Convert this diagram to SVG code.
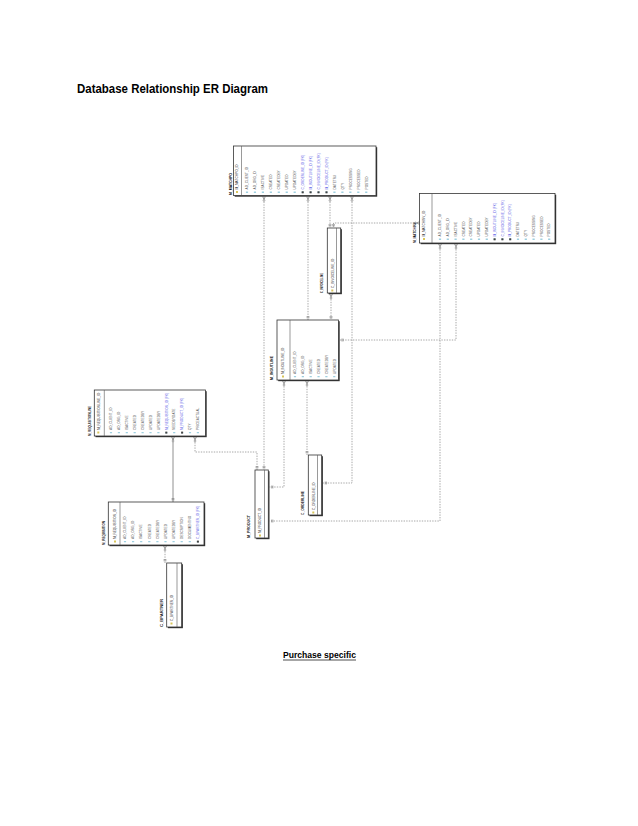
<svg xmlns="http://www.w3.org/2000/svg" width="638" height="826" viewBox="0 0 638 826">
<style>
.box{fill:#fff;stroke:#333;stroke-width:.8}
.sh{fill:#333}
.sep{stroke:#555;stroke-width:.6}
.nm{font-family:"Liberation Sans",Arial,sans-serif;font-size:3.8px;font-weight:bold;fill:#111}
.pk{font-family:"Liberation Sans",Arial,sans-serif;font-size:3.2px;fill:#333}
.f{font-family:"Liberation Sans",Arial,sans-serif;font-size:3.2px;fill:#555}
.fk{fill:#5a5ae6}
.ic{stroke:#9fd0e0;stroke-width:1.4}
.key{fill:#d9c65a}
.fki{fill:#444}
.cn{fill:none;stroke:#7a7a7a;stroke-width:.65;stroke-dasharray:1.4 1.2}
.cs{fill:none;stroke:#555;stroke-width:.65}
.mk{fill:#fff;stroke:#555;stroke-width:.45}
.ttl{font-family:"Liberation Sans",Arial,sans-serif;font-weight:bold;fill:#000}
</style>
<defs>
<g id="cf" class="mk"><path d="M-1.6,0 L0,2.6 L1.6,0 M0,0 V2.6"/><circle cy="4" r="0.9"/></g>
<g id="pt" class="mk"><path d="M-1.5,2.2 H1.5 M-1.5,3.4 H1.5"/></g>
</defs>
<rect width="638" height="826" fill="#fff"/>
<text class="ttl" x="77" y="93" font-size="12.5" textLength="191" lengthAdjust="spacingAndGlyphs">Database Relationship ER Diagram</text>

<g id="connectors">
<path class="cn" d="M264,196.5 V470"/>
<path class="cn" d="M308,196.5 V320"/>
<path class="cn" d="M330,196.5 V228"/>
<path class="cn" d="M352,196.5 V483 H323"/>
<path class="cn" d="M419.5,223 H333.5 V228"/>
<path class="cn" d="M456,244 V340 H339.7"/>
<path class="cn" d="M440,244 V521 H269.5"/>
<path class="cn" d="M331,294 V320"/>
<path class="cn" d="M284,381 V487 H269.5"/>
<path class="cn" d="M307,381 V455"/>
<path class="cn" d="M195,437 V452 H257 V470"/>
<path class="cs" d="M173,437 V502"/>
<path class="cn" d="M165,546 V563"/>
<use href="#cf" transform="translate(264,196.5)"/>
<use href="#cf" transform="translate(308,196.5)"/>
<use href="#cf" transform="translate(330,196.5)"/>
<use href="#cf" transform="translate(352,196.5)"/>
<use href="#cf" transform="translate(419.5,223) rotate(90)"/>
<use href="#cf" transform="translate(456,244)"/>
<use href="#cf" transform="translate(440,244)"/>
<use href="#cf" transform="translate(331,294)"/>
<use href="#cf" transform="translate(284,381)"/>
<use href="#cf" transform="translate(307,381)"/>
<use href="#cf" transform="translate(195,437)"/>
<use href="#cf" transform="translate(173,437)"/>
<use href="#cf" transform="translate(165,546)"/>
<use href="#pt" transform="translate(264,470) rotate(180)"/>
<use href="#pt" transform="translate(308,320) rotate(180)"/>
<use href="#pt" transform="translate(330,228) rotate(180)"/>
<use href="#pt" transform="translate(323,483) rotate(-90)"/>
<use href="#pt" transform="translate(333.5,228) rotate(180)"/>
<use href="#pt" transform="translate(339.7,340) rotate(-90)"/>
<use href="#pt" transform="translate(269.5,521) rotate(-90)"/>
<use href="#pt" transform="translate(331,320) rotate(180)"/>
<use href="#pt" transform="translate(269.5,487) rotate(-90)"/>
<use href="#pt" transform="translate(307,455) rotate(180)"/>
<use href="#pt" transform="translate(257,470) rotate(180)"/>
<use href="#pt" transform="translate(173,502) rotate(180)"/>
<use href="#pt" transform="translate(165,563) rotate(180)"/>
</g>

<g id="m_matchpo">
<rect class="sh" x="234.7" y="147.2" width="142.5" height="49.5"/>
<rect class="box" x="233.5" y="146" width="142.5" height="49.5"/>
<line class="sep" x1="241.5" y1="146" x2="241.5" y2="195.5"/>
<text class="nm" transform="translate(232,195) rotate(-90)" textLength="22" lengthAdjust="spacingAndGlyphs">M_MATCHPO</text>
<rect class="key" x="236" y="191" width="2" height="2"/>
<text class="pk" transform="translate(238.3,189.5) rotate(-90)">M_MATCHPO_ID</text>
<line class="ic" x1="245.9" y1="192.3" x2="368" y2="192.3" stroke-dasharray="2.2 5.75"/>
<rect class="fki" x="301.7" y="191.3" width="2" height="2"/><rect class="fki" x="309.6" y="191.3" width="2" height="2"/><rect class="fki" x="317.5" y="191.3" width="2" height="2"/><rect class="fki" x="325.5" y="191.3" width="2" height="2"/>
<g class="f" transform="translate(248.3,189.5) rotate(-90)">
<text y="0">AD_CLIENT_ID</text><text y="7.95">AD_ORG_ID</text><text y="15.9">ISACTIVE</text><text y="23.85">CREATED</text><text y="31.8">CREATEDBY</text><text y="39.75">UPDATED</text><text y="47.7">UPDATEDBY</text>
<text y="55.65" class="fk">C_ORDERLINE_ID (FK)</text><text y="63.6" class="fk">M_INOUTLINE_ID (FK)</text><text y="71.55" class="fk">C_INVOICELINE_ID (FK)</text><text y="79.5" class="fk">M_PRODUCT_ID (FK)</text>
<text y="87.45">DATETRX</text><text y="95.4">QTY</text><text y="103.35">PROCESSING</text><text y="111.3">PROCESSED</text><text y="119.25">POSTED</text>
</g>
</g>

<g id="m_matchinv">
<rect class="sh" x="420.7" y="194.7" width="135.5" height="49.5"/>
<rect class="box" x="419.5" y="193.5" width="135.5" height="49.5"/>
<line class="sep" x1="432" y1="193.5" x2="432" y2="243"/>
<text class="nm" transform="translate(416.4,243) rotate(-90)" textLength="21" lengthAdjust="spacingAndGlyphs">M_MATCHINV</text>
<rect class="key" x="423" y="238" width="2" height="2"/>
<text class="pk" transform="translate(425.3,236.5) rotate(-90)">M_MATCHINV_ID</text>
<line class="ic" x1="438.9" y1="239.3" x2="551" y2="239.3" stroke-dasharray="2.2 5.6"/>
<rect class="fki" x="493.6" y="238.3" width="2" height="2"/><rect class="fki" x="501.4" y="238.3" width="2" height="2"/><rect class="fki" x="509.2" y="238.3" width="2" height="2"/>
<g class="f" transform="translate(441.3,236.5) rotate(-90)">
<text y="0">AD_CLIENT_ID</text><text y="7.8">AD_ORG_ID</text><text y="15.6">ISACTIVE</text><text y="23.4">CREATED</text><text y="31.2">CREATEDBY</text><text y="39">UPDATED</text><text y="46.8">UPDATEDBY</text>
<text y="54.6" class="fk">M_INOUTLINE_ID (FK)</text><text y="62.4" class="fk">C_INVOICELINE_ID (FK)</text><text y="70.2" class="fk">M_PRODUCT_ID (FK)</text>
<text y="78">DATETRX</text><text y="85.8">QTY</text><text y="93.6">PROCESSING</text><text y="101.4">PROCESSED</text><text y="109.2">POSTED</text>
</g>
</g>

<g id="m_inoutline">
<rect class="sh" x="278.2" y="321.2" width="61.5" height="60"/>
<rect class="box" x="277" y="320" width="61.5" height="60"/>
<line class="sep" x1="290" y1="320" x2="290" y2="380"/>
<text class="nm" transform="translate(273.4,380) rotate(-90)" textLength="24" lengthAdjust="spacingAndGlyphs">M_INOUTLINE</text>
<rect class="key" x="282" y="375.5" width="2" height="2"/>
<text class="pk" transform="translate(284.3,374) rotate(-90)">M_INOUTLINE_ID</text>
<line class="ic" x1="293.9" y1="376.6" x2="336" y2="376.6" stroke-dasharray="2.2 5.65"/>
<g class="f" transform="translate(296.3,374) rotate(-90)">
<text y="0">AD_CLIENT_ID</text><text y="7.85">AD_ORG_ID</text><text y="15.7">ISACTIVE</text><text y="23.55">CREATED</text><text y="31.4">CREATEDBY</text><text y="39.25">UPDATED</text>
</g>
</g>

<g id="c_invoiceline">
<rect class="sh" x="328.5" y="229.2" width="13.4" height="65"/>
<rect class="box" x="327.3" y="228" width="13.4" height="65"/>
<line class="sep" x1="336.5" y1="228" x2="336.5" y2="293"/>
<text class="nm" transform="translate(323.1,293) rotate(-90)" textLength="20" lengthAdjust="spacingAndGlyphs">C_INVOICELINE</text>
<rect class="key" x="331.3" y="289.5" width="2" height="2"/>
<text class="pk" transform="translate(333.6,288) rotate(-90)">C_INVOICELINE_ID</text>
</g>

<g id="c_orderline">
<rect class="sh" x="309.5" y="456.2" width="13.4" height="60"/>
<rect class="box" x="308.3" y="455" width="13.4" height="60"/>
<line class="sep" x1="317.5" y1="455" x2="317.5" y2="515"/>
<text class="nm" transform="translate(304.1,515) rotate(-90)" textLength="24" lengthAdjust="spacingAndGlyphs">C_ORDERLINE</text>
<rect class="key" x="312.3" y="511.5" width="2" height="2"/>
<text class="pk" transform="translate(314.6,510) rotate(-90)">C_ORDERLINE_ID</text>
</g>

<g id="m_product">
<rect class="sh" x="256.2" y="471.2" width="13.3" height="68"/>
<rect class="box" x="255" y="470" width="13.3" height="68"/>
<line class="sep" x1="264.5" y1="470" x2="264.5" y2="538"/>
<text class="nm" transform="translate(250.4,538) rotate(-90)" textLength="23" lengthAdjust="spacingAndGlyphs">M_PRODUCT</text>
<rect class="key" x="259" y="534.5" width="2" height="2"/>
<text class="pk" transform="translate(261.3,533) rotate(-90)">M_PRODUCT_ID</text>
</g>

<g id="m_requisitionline">
<rect class="sh" x="95.5" y="391.2" width="111.2" height="46"/>
<rect class="box" x="94.3" y="390" width="111.2" height="46"/>
<line class="sep" x1="104.3" y1="390" x2="104.3" y2="436"/>
<text class="nm" transform="translate(91.4,436) rotate(-90)" textLength="30" lengthAdjust="spacingAndGlyphs">M_REQUISITIONLINE</text>
<rect class="key" x="97.3" y="431.5" width="2" height="2"/>
<text class="pk" transform="translate(99.6,430) rotate(-90)">M_REQUISITIONLINE_ID</text>
<line class="ic" x1="109.9" y1="432.6" x2="200" y2="432.6" stroke-dasharray="2.2 5.7"/>
<rect class="fki" x="165.3" y="431.6" width="2" height="2"/><rect class="fki" x="181.1" y="431.6" width="2" height="2"/>
<g class="f" transform="translate(112.3,430) rotate(-90)">
<text y="0">AD_CLIENT_ID</text><text y="7.9">AD_ORG_ID</text><text y="15.8">ISACTIVE</text><text y="23.7">CREATED</text><text y="31.6">CREATEDBY</text><text y="39.5">UPDATED</text><text y="47.4">UPDATEDBY</text>
<text y="55.3" class="fk">M_REQUISITION_ID (FK)</text><text y="63.2">NEEDBYDATE</text><text y="71.1" class="fk">M_PRODUCT_ID (FK)</text><text y="79">QTY</text><text y="86.9">PRICEACTUAL</text>
</g>
</g>

<g id="m_requisition">
<rect class="sh" x="109.5" y="503.2" width="95.7" height="43"/>
<rect class="box" x="108.3" y="502" width="95.7" height="43"/>
<line class="sep" x1="120" y1="502" x2="120" y2="545"/>
<text class="nm" transform="translate(104.7,545) rotate(-90)" textLength="24" lengthAdjust="spacingAndGlyphs">M_REQUISITION</text>
<rect class="key" x="114" y="540.5" width="2" height="2"/>
<text class="pk" transform="translate(116.3,539) rotate(-90)">M_REQUISITION_ID</text>
<line class="ic" x1="123.9" y1="541.6" x2="200" y2="541.6" stroke-dasharray="2.2 5.9"/>
<rect class="fki" x="196.9" y="540.6" width="2" height="2"/>
<g class="f" transform="translate(126.3,539) rotate(-90)">
<text y="0">AD_CLIENT_ID</text><text y="8.1">AD_ORG_ID</text><text y="16.2">ISACTIVE</text><text y="24.3">CREATED</text><text y="32.4">CREATEDBY</text><text y="40.5">UPDATED</text><text y="48.6">UPDATEDBY</text>
<text y="56.7">DESCRIPTION</text><text y="64.8">DOCUMENTNO</text><text y="72.9" class="fk">C_BPARTNER_ID (FK)</text>
</g>
</g>

<g id="c_bpartner">
<rect class="sh" x="167.9" y="564.2" width="15" height="64"/>
<rect class="box" x="166.7" y="563" width="15" height="64"/>
<line class="sep" x1="177" y1="563" x2="177" y2="627"/>
<text class="nm" transform="translate(163.1,627) rotate(-90)" textLength="28" lengthAdjust="spacingAndGlyphs">C_BPARTNER</text>
<rect class="key" x="170.5" y="622.5" width="2" height="2"/>
<text class="pk" transform="translate(172.8,621) rotate(-90)">C_BPARTNER_ID</text>
</g>

<text class="ttl" x="283" y="658.3" font-size="8.6" textLength="73" lengthAdjust="spacingAndGlyphs">Purchase specific</text>
<line x1="283" y1="660" x2="356" y2="660" stroke="#000" stroke-width="0.7"/>
</svg>
